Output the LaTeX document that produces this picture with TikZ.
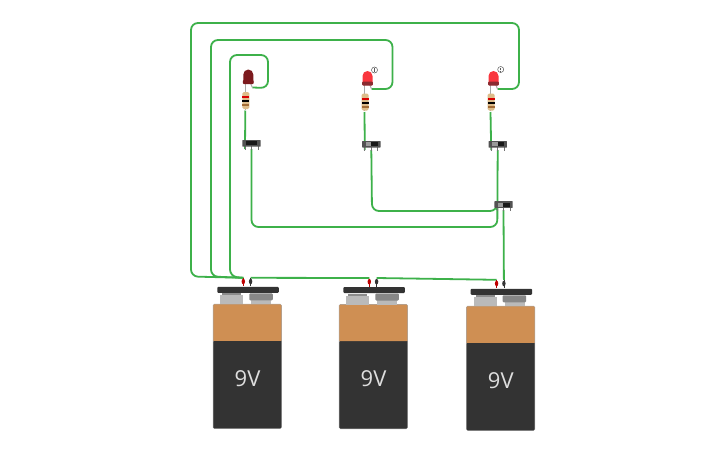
\documentclass[tikz,border=0pt]{standalone}
\usepackage{fontspec}
\usetikzlibrary{backgrounds}
\setmainfont{Open Sans}
\definecolor{wiregreen}{HTML}{3DB14A}
\definecolor{batorange}{HTML}{CF8F53}
\definecolor{batdark}{HTML}{333333}
\definecolor{leadgrey}{HTML}{A9A9A9}
\definecolor{restan}{HTML}{DDBC8A}
\definecolor{ledoff}{HTML}{7C1A1E}
\definecolor{ledon}{HTML}{F9363E}
\definecolor{ledbase}{HTML}{8A2A30}
\tikzset{
  x=1pt, y=-1pt,
  wire/.style={draw=wiregreen, line width=1.8pt, rounded corners=7pt},
  lead/.style={draw=leadgrey, line width=1pt},
  % origin: top left of the battery body
  pics/battery/.style={code={
    \fill[rounded corners=1.5pt, fill=leadgrey] (-0.5,-0.5) rectangle (68.5,124.5);
    \fill[fill=batdark] (0,36.5) -- (68,36.5) [rounded corners=1pt] -- (68,124) -- (0,124) -- cycle;
    \fill[fill=batorange] (0,36.5) [rounded corners=1pt] -- (0,0) -- (68,0) [sharp corners] -- (68,36.5) -- cycle;
    \fill[fill=black!45] (9,-11) rectangle (28,-8);
    \fill[fill=black!27] (7,-9) rectangle (30,0);
    \fill[fill=black!27] (38,-6) rectangle (58,0);
    \fill[rounded corners=1pt, fill=black!47] (36,-11) rectangle (59.5,-4);
    \fill[rounded corners=1pt, fill=batdark] (4,-17.5) rectangle (65.5,-11.5);
    \draw[draw=red!70!black, line width=0.8pt] (30,-26) -- (30,-18);
    \draw[draw=batdark, line width=0.8pt] (37.3,-26) -- (37.3,-18);
    \fill[fill=red!75!black] (30,-22.8) ellipse (1.7 and 2.8);
    \fill[fill=batdark] (37.3,-22.8) ellipse (1.7 and 2.8);
    \node[text=black!13, font=\fontsize{22}{22}\selectfont] (-label) at (34.2,74) {9V};
    \coordinate (-red) at (30,-26.5);
    \coordinate (-black) at (37.3,-26.5);
  }},
  % origin: top left of the switch body; slider left, split, right
  pics/slideswitch/.style n args={3}{code={
    \draw[lead, line width=0.9pt, draw=black!55] (2.7,6) -- (2.7,10);
    \draw[lead, line width=0.9pt, draw=black!55] (9.2,6) -- (9.2,10);
    \draw[lead, line width=0.9pt, draw=black!55] (15.7,6) -- (15.7,10);
    \fill[rounded corners=0.5pt, fill=black!68] (0,0) rectangle (18.4,6.6);
    \fill[fill=black!40] (#1,1.3) rectangle (#2,5.3);
    \fill[fill=black!90] (#2,1.3) rectangle (#3,5.3);
    \coordinate (-a) at (2.7,9);
    \coordinate (-b) at (9.2,9);
  }},
  % origin: top left of the LED dome
  pics/led/.style n args={2}{code={
    \draw[lead] (2,13) -- (2,40);
    \draw[lead] (7,13) -- (9,18);
    \fill[fill=#1] (0,14) -- (0,5) arc[start angle=180, end angle=360, radius=5] -- (10,14) -- cycle;
    \fill[rounded corners=1pt, fill=#2] (-0.4,10.5) rectangle (10.4,14.5);
    \fill[rounded corners=1.5pt, fill=restan] (-1,22.5) rectangle (6,39.5);
    \fill[fill=red!85!black] (-1,26.5) rectangle (6,28.5);
    \fill[fill=black] (-1,30.5) rectangle (6,32.5);
    \fill[fill=brown!85!black] (-1,34.5) rectangle (6,36.5);
    \coordinate (-out) at (2,41);
    \coordinate (-in) at (9,18);
  }},
  % the small round mark beside a lit LED
  pics/ledmark/.style={code={
    \draw[draw=black!65, fill=white, line width=0.5pt] (0,0) circle (3);
    \draw[draw=black!65, line width=0.6pt] (0,-1.6) -- (0,0.6) (0,1.1) -- (0,1.7);
  }}
}
\begin{document}
\begin{tikzpicture}
  \useasboundingbox (0,0) rectangle (725,453);

  % batteries
  \pic (b1) at (213.3,304.3) {battery};
  \pic (b2) at (339.3,304.5) {battery};
  \pic (b3) at (466.6,306.3) {battery};

  % leds with series resistors
  \pic (l1) at (243.3,69.5) {led={ledoff}{ledoff}};
  \pic (l2) at (362.5,71) {led={ledon}{ledbase}};
  \pic (l3) at (488.5,71) {led={ledon}{ledbase}};
  \pic at (374.5,70) {ledmark};
  \pic at (500.7,69.5) {ledmark};

  % switches
  \pic (s1) at (242.3,140) {slideswitch={10.5}{14.5}{3.5}};
  \pic (s2) at (362.1,141) {slideswitch={3.5}{9}{15.5}};
  \pic (s3) at (488.5,141) {slideswitch={3.5}{9}{15.5}};
  \pic (s4) at (494.3,201.2) {slideswitch={3.5}{9}{15.5}};

  \begin{scope}[on background layer]
    \fill[white] (0,0) rectangle (725,453);

    % led returns to the positive terminal
    \draw[wire] (l1-in) -- (268,88) -- (268,55) -- (230,55) -- (230,276.5) -- (b1-red);
    \draw[wire] (l2-in) -- (392.5,89) -- (392.5,40) -- (211,40) -- (211,276.5) -- (b1-red);
    \draw[wire] (l3-in) -- (519,89) -- (519,23) -- (191,23) -- (191,276.5) -- (b1-red);

    % resistors to switches
    \draw[wire] (l1-out) -- (s1-a);
    \draw[wire] (l2-out) -- (s2-a);
    \draw[wire] (l3-out) -- (s3-a);

    % switch to switch
    \draw[wire] (s1-b) -- (251.5,227) -- (497.3,227) -- (s3-b);
    \draw[wire] (s2-b) -- (372,211) -- (497,211) -- (s4-a);

    % batteries in series, back to the last switch
    \draw[wire] (b1-black) -- (b2-red);
    \draw[wire] (b2-black) -- (b3-red);
    \draw[wire] (b3-black) -- (s4-b);
  \end{scope}
\end{tikzpicture}
\end{document}
